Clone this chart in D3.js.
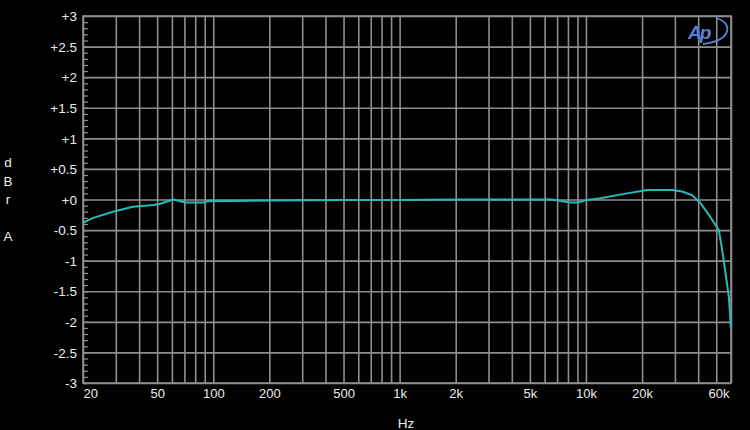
<!DOCTYPE html>
<html><head><meta charset="utf-8">
<script src="https://cdn.jsdelivr.net/npm/d3@7"></script>
<style>
html,body{margin:0;padding:0;background:#000;}
svg{display:block;}
text{font-family:Arial,"Liberation Sans",sans-serif;}
</style></head>
<body>
<svg id="c" width="750" height="430"></svg>
<script>
// ---- data ----
const freqHz = [20, 22.7, 29, 37, 48, 52, 61, 71, 89, 92, 158, 200, 500, 1000, 2000, 3472, 6578, 7292, 8252, 8966, 10146, 11956, 16634, 21300, 29020, 32840, 37160, 41160, 45640, 51640, 53840, 56100, 58420, 60000];
const levelDbrA = [-0.38, -0.30, -0.20, -0.12, -0.09, -0.07, 0.0, -0.05, -0.05, -0.03, -0.02, -0.015, -0.01, -0.01, 0.0, 0.0, 0.0, -0.025, -0.05, -0.05, -0.01, 0.02, 0.10, 0.155, 0.155, 0.13, 0.07, -0.06, -0.25, -0.50, -0.83, -1.21, -1.59, -2.12];
const xGridValues = [20,30,40,50,60,70,80,90,100,200,300,400,500,600,700,800,900,1000,2000,3000,4000,5000,6000,7000,8000,9000,10000,20000,30000,40000,50000,60000];
const xTickValues = [20,50,100,200,500,1000,2000,5000,10000,20000,60000];
const xTickLabels = ["20","50","100","200","500","1k","2k","5k","10k","20k","60k"];
const yTickValues = [3,2.5,2,1.5,1,0.5,0,-0.5,-1,-1.5,-2,-2.5,-3];
const yTickLabels = ["+3","+2.5","+2","+1.5","+1","+0.5","+0","-0.5","-1","-1.5","-2","-2.5","-3"];
const yMinorValues = d3.range(-30, 31).map(d => d / 10);
const yAxisTitle = ["d","B","r","","A"];
const xAxisTitle = "Hz";

// ---- layout ----
const L = 83, R = 731, T = 16, B = 383;
const gridColor = "#8e8e8e", textColor = "#ececec", curveColor = "#29b7b9";
const svg = d3.select("#c");
svg.append("rect").attr("width",750).attr("height",430).attr("fill","#000");

const x = d3.scaleLog().domain([20, 60000]).range([L, R]);
const y = d3.scaleLinear().domain([-3, 3]).range([B, T]);

// vertical grid
const gx = svg.append("g").attr("transform",`translate(0,${B})`)
  .call(d3.axisBottom(x).tickValues(xGridValues).tickSize(-(B-T)).tickFormat(""));
gx.select(".domain").remove();
gx.selectAll("line").attr("stroke",gridColor).attr("stroke-width",1.6);

// horizontal grid
const gy = svg.append("g").attr("transform",`translate(${L},0)`)
  .call(d3.axisLeft(y).tickValues(yTickValues).tickSize(-(R-L)).tickFormat(""));
gy.select(".domain").remove();
gy.selectAll("line").attr("stroke",gridColor).attr("stroke-width",1.6);

// minor y ticks (inside)
const gm = svg.append("g").attr("transform",`translate(${L},0)`)
  .call(d3.axisLeft(y).tickValues(yMinorValues).tickSize(-5).tickFormat(""));
gm.select(".domain").remove();
gm.selectAll("line").attr("stroke",gridColor).attr("stroke-width",1.2);

// frame
svg.append("rect").attr("x",L).attr("y",T).attr("width",R-L).attr("height",B-T)
  .attr("fill","none").attr("stroke",gridColor).attr("stroke-width",1.6);

// y labels
const yl = svg.append("g").attr("transform",`translate(${L-3},0)`)
  .call(d3.axisLeft(y).tickValues(yTickValues).tickSize(0)
     .tickFormat((d,i) => yTickLabels[i]));
yl.select(".domain").remove();
yl.selectAll("text").attr("fill",textColor).attr("font-size",13.5)
  .attr("font-family","Arial, 'Liberation Sans', sans-serif").attr("dy","0.35em");

// x labels
const xl = svg.append("g").attr("transform",`translate(0,${B+3})`)
  .call(d3.axisBottom(x).tickValues(xTickValues).tickSize(0)
     .tickFormat((d,i) => xTickLabels[i]));
xl.select(".domain").remove();
xl.selectAll("text").attr("fill",textColor).attr("font-size",13)
  .attr("font-family","Arial, 'Liberation Sans', sans-serif")
  .attr("text-anchor",(d,i) => i === 0 ? "start" : (i === xTickValues.length-1 ? "end" : "middle"))
  .attr("dx",(d,i) => i === xTickValues.length-1 ? -2 : 0);

// axis titles
svg.append("g").selectAll("text").data(yAxisTitle).join("text")
  .attr("x",8).attr("y",(d,i) => 167 + i*18.5)
  .attr("text-anchor","middle").attr("fill",textColor).attr("font-size",13.5)
  .text(d => d);
svg.append("text").attr("x",406).attr("y",428).attr("text-anchor","middle")
  .attr("fill",textColor).attr("font-size",13.5).text(xAxisTitle);

// logo
const logo = svg.append("g");
logo.append("text").attr("x",688).attr("y",39).attr("fill","#5b82d6")
  .attr("font-size",19).attr("font-style","italic").attr("font-weight","bold")
  .attr("letter-spacing",-2).text("Ap");
logo.append("path").attr("d","M716,18 C732,22 734,40 703,44")
  .attr("fill","none").attr("stroke","#5b82d6").attr("stroke-width",1.8);

// curve
const line = d3.line().x((d,i) => x(freqHz[i])).y(d => y(d));
svg.append("path").datum(levelDbrA).attr("d",line)
  .attr("fill","none").attr("stroke",curveColor).attr("stroke-width",2)
  .attr("stroke-linejoin","round");
</script>
</body></html>
